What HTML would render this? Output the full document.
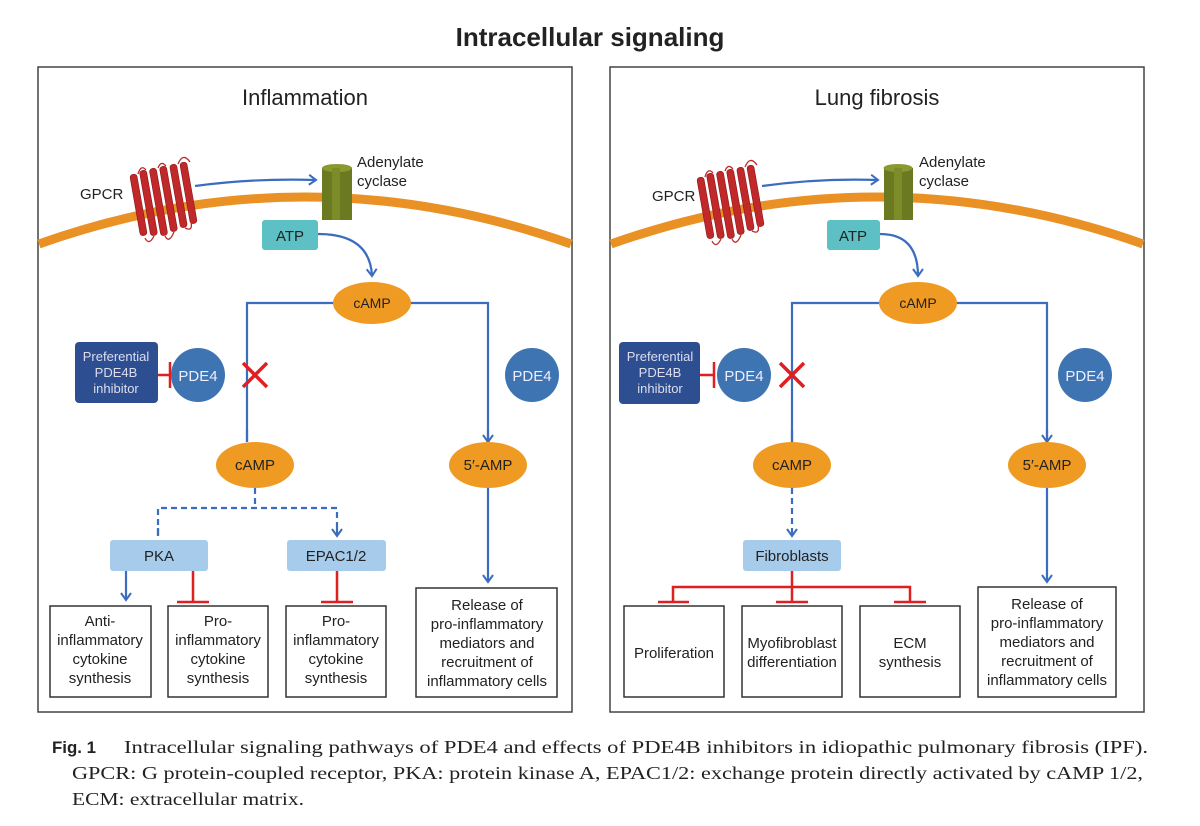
<!DOCTYPE html>
<html><head><meta charset="utf-8"><style>
html,body{margin:0;padding:0;background:#fff;width:1200px;height:826px;overflow:hidden}
svg text{font-family:"Liberation Sans",Arial,sans-serif}
svg text.sr{font-family:"Liberation Serif",serif}
</style></head><body>
<svg width="1200" height="826" viewBox="0 0 1200 826" style="position:absolute;left:0;top:0">
<defs>
<marker id="ah" markerWidth="12" markerHeight="12" refX="9" refY="6" orient="auto" markerUnits="userSpaceOnUse">
<path d="M2,1 L9,6 L2,11" fill="none" stroke="#3a6cc0" stroke-width="2"/></marker>
<g id="gpcr">
<g fill="#c0282a" stroke="#8a1515" stroke-width="0.6">
<rect x="0" y="14" width="7" height="62" rx="3" transform="rotate(-10 3 45)"/>
<rect x="10" y="10" width="7" height="66" rx="3" transform="rotate(-10 13 43)"/>
<rect x="20" y="8" width="7" height="68" rx="3" transform="rotate(-10 23 42)"/>
<rect x="30" y="6" width="7" height="66" rx="3" transform="rotate(-10 33 39)"/>
<rect x="40" y="4" width="7" height="64" rx="3" transform="rotate(-10 43 36)"/>
<rect x="50" y="2" width="7" height="62" rx="3" transform="rotate(-10 53 33)"/>
</g>
<path d="M3,14 Q6,4 11,10 M23,8 Q26,0 31,6 M43,4 Q48,-8 55,2 M10,78 Q14,86 19,76 M30,76 Q34,84 39,72 M50,68 Q58,72 56,62" fill="none" stroke="#c0282a" stroke-width="1.3"/>
</g>
</defs>
<text x="590" y="46" text-anchor="middle" font-size="26" font-weight="bold" fill="#222">Intracellular signaling</text>

<!-- LEFT PANEL -->
<rect x="38" y="67" width="534" height="645" fill="none" stroke="#444" stroke-width="1.5"/>
<text x="305" y="105" text-anchor="middle" font-size="22" fill="#222">Inflammation</text>
<path d="M39,244 Q305,150 571,244" fill="none" stroke="#ea9125" stroke-width="9"/>
<use href="#gpcr" x="135" y="160"/>
<text x="80" y="199" font-size="15" fill="#222">GPCR</text>
<path d="M195,186 Q255,178 316,180" fill="none" stroke="#3a6cc0" stroke-width="2.2" marker-end="url(#ah)"/>
<rect x="322" y="168" width="30" height="52" fill="#6b7a20"/><ellipse cx="337" cy="168" rx="15" ry="4" fill="#8a9a30"/><rect x="332" y="168" width="8" height="52" fill="#7d8c28"/>
<text x="357" y="167" font-size="15" fill="#222">Adenylate</text><text x="357" y="186" font-size="15" fill="#222">cyclase</text>
<rect x="262" y="220" width="56" height="30" rx="3" fill="#5cc0c4"/><text x="290" y="241" text-anchor="middle" font-size="15" fill="#222">ATP</text>
<path d="M318,234 Q370,234 372,276" fill="none" stroke="#3a6cc0" stroke-width="2.2" marker-end="url(#ah)"/>
<path d="M334,303 H247 V442 M410,303 H488 V442" fill="none" stroke="#3a6cc0" stroke-width="2.2"/>
<path d="M247,430 V442 M488,430 V442" stroke="#3a6cc0" stroke-width="2.2" marker-end="url(#ah)"/>
<ellipse cx="372" cy="303" rx="39" ry="21" fill="#ef9a22"/><text x="372" y="308" text-anchor="middle" font-size="14" fill="#222">cAMP</text>
<rect x="75" y="342" width="83" height="61" rx="4" fill="#2d4f92"/>
<text x="116" y="361" text-anchor="middle" font-size="13" fill="#dde">Preferential</text><text x="116" y="377" text-anchor="middle" font-size="13" fill="#dde">PDE4B</text><text x="116" y="393" text-anchor="middle" font-size="13" fill="#dde">inhibitor</text>
<path d="M158,375 H170 M170,362 V388" stroke="#e02020" stroke-width="2.5"/>
<circle cx="198" cy="375" r="27" fill="#3e74b2"/><text x="198" y="381" text-anchor="middle" font-size="15" fill="#eef">PDE4</text>
<path d="M243,363 L267,387 M267,363 L243,387" stroke="#e02020" stroke-width="3.5"/>
<circle cx="532" cy="375" r="27" fill="#3e74b2"/><text x="532" y="381" text-anchor="middle" font-size="15" fill="#eef">PDE4</text>
<ellipse cx="255" cy="465" rx="39" ry="23" fill="#ef9a22"/><text x="255" y="470" text-anchor="middle" font-size="15" fill="#222">cAMP</text>
<ellipse cx="488" cy="465" rx="39" ry="23" fill="#ef9a22"/><text x="488" y="470" text-anchor="middle" font-size="15" fill="#222">5′-AMP</text>
<path d="M255,488 V508 M158,535 V508 H337 V535" fill="none" stroke="#3a6cc0" stroke-width="2.2" stroke-dasharray="6,4"/>
<path d="M158,528 V536 M337,528 V536" stroke="#3a6cc0" stroke-width="2.2" marker-end="url(#ah)"/>
<rect x="110" y="540" width="98" height="31" rx="3" fill="#a7cbeb"/><text x="159" y="561" text-anchor="middle" font-size="15" fill="#222">PKA</text>
<rect x="287" y="540" width="99" height="31" rx="3" fill="#a7cbeb"/><text x="336" y="561" text-anchor="middle" font-size="15" fill="#222">EPAC1/2</text>
<path d="M126,571 V600" stroke="#3a6cc0" stroke-width="2.2" marker-end="url(#ah)"/>
<path d="M193,571 V602 M177,602 H209 M337,571 V602 M321,602 H353" stroke="#e02020" stroke-width="2.5"/>
<path d="M488,488 V582" stroke="#3a6cc0" stroke-width="2.2" marker-end="url(#ah)"/>
<g fill="#fff" stroke="#333" stroke-width="1.5">
<rect x="50" y="606" width="101" height="91"/><rect x="168" y="606" width="100" height="91"/><rect x="286" y="606" width="100" height="91"/><rect x="416" y="588" width="141" height="109"/></g>
<g font-size="15" fill="#222" text-anchor="middle">
<text x="100" y="626">Anti-</text><text x="100" y="645">inflammatory</text><text x="100" y="664">cytokine</text><text x="100" y="683">synthesis</text>
<text x="218" y="626">Pro-</text><text x="218" y="645">inflammatory</text><text x="218" y="664">cytokine</text><text x="218" y="683">synthesis</text>
<text x="336" y="626">Pro-</text><text x="336" y="645">inflammatory</text><text x="336" y="664">cytokine</text><text x="336" y="683">synthesis</text>
<text x="487" y="610">Release of</text><text x="487" y="629">pro-inflammatory</text><text x="487" y="648">mediators and</text><text x="487" y="667">recruitment of</text><text x="487" y="686">inflammatory cells</text>
</g>

<!-- RIGHT PANEL -->
<rect x="610" y="67" width="534" height="645" fill="none" stroke="#444" stroke-width="1.5"/>
<text x="877" y="105" text-anchor="middle" font-size="22" fill="#222">Lung fibrosis</text>
<path d="M611,244 Q877,150 1143,244" fill="none" stroke="#ea9125" stroke-width="9"/>
<use href="#gpcr" x="702" y="163"/>
<text x="652" y="201" font-size="15" fill="#222">GPCR</text>
<path d="M762,186 Q820,178 878,180" fill="none" stroke="#3a6cc0" stroke-width="2.2" marker-end="url(#ah)"/>
<rect x="884" y="168" width="29" height="52" fill="#6b7a20"/><ellipse cx="898" cy="168" rx="14.5" ry="4" fill="#8a9a30"/><rect x="894" y="168" width="8" height="52" fill="#7d8c28"/>
<text x="919" y="167" font-size="15" fill="#222">Adenylate</text><text x="919" y="186" font-size="15" fill="#222">cyclase</text>
<rect x="827" y="220" width="53" height="30" rx="3" fill="#5cc0c4"/><text x="853" y="241" text-anchor="middle" font-size="15" fill="#222">ATP</text>
<path d="M880,234 Q918,234 918,276" fill="none" stroke="#3a6cc0" stroke-width="2.2" marker-end="url(#ah)"/>
<path d="M880,303 H792 V442 M956,303 H1047 V442" fill="none" stroke="#3a6cc0" stroke-width="2.2"/>
<path d="M792,430 V442 M1047,430 V442" stroke="#3a6cc0" stroke-width="2.2" marker-end="url(#ah)"/>
<ellipse cx="918" cy="303" rx="39" ry="21" fill="#ef9a22"/><text x="918" y="308" text-anchor="middle" font-size="14" fill="#222">cAMP</text>
<rect x="619" y="342" width="81" height="62" rx="4" fill="#2d4f92"/>
<text x="660" y="361" text-anchor="middle" font-size="13" fill="#dde">Preferential</text><text x="660" y="377" text-anchor="middle" font-size="13" fill="#dde">PDE4B</text><text x="660" y="393" text-anchor="middle" font-size="13" fill="#dde">inhibitor</text>
<path d="M700,375 H714 M714,362 V388" stroke="#e02020" stroke-width="2.5"/>
<circle cx="744" cy="375" r="27" fill="#3e74b2"/><text x="744" y="381" text-anchor="middle" font-size="15" fill="#eef">PDE4</text>
<path d="M780,363 L804,387 M804,363 L780,387" stroke="#e02020" stroke-width="3.5"/>
<circle cx="1085" cy="375" r="27" fill="#3e74b2"/><text x="1085" y="381" text-anchor="middle" font-size="15" fill="#eef">PDE4</text>
<ellipse cx="792" cy="465" rx="39" ry="23" fill="#ef9a22"/><text x="792" y="470" text-anchor="middle" font-size="15" fill="#222">cAMP</text>
<ellipse cx="1047" cy="465" rx="39" ry="23" fill="#ef9a22"/><text x="1047" y="470" text-anchor="middle" font-size="15" fill="#222">5′-AMP</text>
<path d="M792,488 V528" stroke="#3a6cc0" stroke-width="2.2" stroke-dasharray="6,4"/>
<path d="M792,528 V536" stroke="#3a6cc0" stroke-width="2.2" marker-end="url(#ah)"/>
<rect x="743" y="540" width="98" height="31" rx="3" fill="#a7cbeb"/><text x="792" y="561" text-anchor="middle" font-size="15" fill="#222">Fibroblasts</text>
<path d="M792,571 V602 M673,602 V587 H910 V602 M658,602 H689 M776,602 H808 M894,602 H926" fill="none" stroke="#e02020" stroke-width="2.5"/>
<path d="M1047,488 V582" stroke="#3a6cc0" stroke-width="2.2" marker-end="url(#ah)"/>
<g fill="#fff" stroke="#333" stroke-width="1.5">
<rect x="624" y="606" width="100" height="91"/><rect x="742" y="606" width="100" height="91"/><rect x="860" y="606" width="100" height="91"/><rect x="978" y="587" width="138" height="110"/></g>
<g font-size="15" fill="#222" text-anchor="middle">
<text x="674" y="658">Proliferation</text>
<text x="792" y="648">Myofibroblast</text><text x="792" y="667">differentiation</text>
<text x="910" y="648">ECM</text><text x="910" y="667">synthesis</text>
<text x="1047" y="609">Release of</text><text x="1047" y="628">pro-inflammatory</text><text x="1047" y="647">mediators and</text><text x="1047" y="666">recruitment of</text><text x="1047" y="685">inflammatory cells</text>
</g>

<!-- CAPTION -->
<text x="52" y="753" font-size="17" font-weight="bold" fill="#222" textLength="44" lengthAdjust="spacingAndGlyphs">Fig. 1</text>
<text class="sr" x="124" y="753" font-size="18" fill="#222" textLength="1024" lengthAdjust="spacingAndGlyphs">Intracellular signaling pathways of PDE4 and effects of PDE4B inhibitors in idiopathic pulmonary fibrosis (IPF).</text>
<text class="sr" x="72" y="779" font-size="18" fill="#222" textLength="1071" lengthAdjust="spacingAndGlyphs">GPCR: G protein-coupled receptor, PKA: protein kinase A, EPAC1/2: exchange protein directly activated by cAMP 1/2,</text>
<text class="sr" x="72" y="805" font-size="18" fill="#222" textLength="232" lengthAdjust="spacingAndGlyphs">ECM: extracellular matrix.</text>
</svg>
</body></html>
